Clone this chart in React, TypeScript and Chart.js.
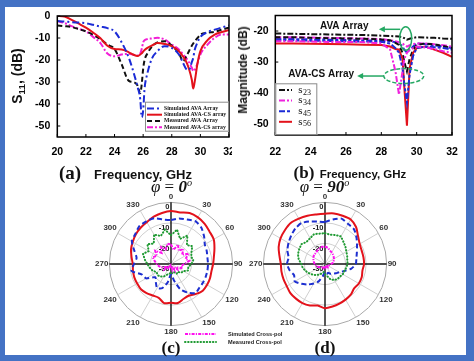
import React, { useEffect, useRef } from 'react';
import { Chart, registerables } from 'chart.js';

Chart.register(...registerables);

const SANS = '"Liberation Sans", Arial, "DejaVu Sans", sans-serif';
const SERIF = '"Liberation Serif", "Times New Roman", "DejaVu Serif", serif';
const FRAME = '#4472C4';
const GREEN = '#25a863';

// ---------------- (a) S11 ----------------
const freqA = [20, 20.5, 21, 21.5, 22, 22.5, 23, 23.5, 24, 24.5, 25, 25.3, 25.6, 25.8, 25.9, 26, 26.1, 26.3, 26.6, 27, 27.5, 28, 28.5, 28.8, 29, 29.2, 29.4, 29.5, 29.6, 29.8, 30, 30.5, 31, 31.5, 32];
const simAVA = [-2.3, -2.5, -2.8, -3, -3.3, -4, -4.8, -5.5, -7, -12, -19, -25, -32, -38, -46, -43, -33, -26, -19.5, -16, -13.7, -14.5, -17.5, -21.5, -24, -24.5, -21, -19, -15.5, -12, -9.5, -7.3, -6.2, -5.2, -4.3];
const simAVACS = [0, -0.2, -1.8, -3.5, -5.3, -7.5, -10, -13.5, -15, -15.2, -16.5, -17.5, -18.2, -17.5, -17, -16.2, -15.5, -14.5, -13.5, -12.3, -12.7, -13.7, -16, -18.5, -20.6, -24, -29, -33, -30, -21.5, -16, -11, -8.5, -7.3, -6.4];
const measAVA = [-4.3, -4.6, -5, -6, -7, -8.5, -10.5, -13, -15, -22, -29.5, -30, -31.5, -35, -31, -24, -20, -17, -14, -12, -11.5, -13.5, -17, -20.5, -18.5, -16, -13.5, -12.5, -11.5, -10, -8.5, -7.6, -7.2, -6.2, -5.3];
const measAVACS = [-2.3, -3.2, -4.6, -5.8, -7, -9.5, -12.2, -17, -18.3, -17.5, -17.2, -17.6, -18, -17, -15, -12, -11, -10.5, -10.2, -9.9, -10.7, -13, -15.2, -17.5, -19, -21, -23.5, -25, -24.5, -21.5, -17.5, -13, -9.9, -8.4, -8.4];
const xTicksA = [20, 22, 24, 26, 28, 30, 32];
const yTicksA = [0, -10, -20, -30, -40, -50];
const legendA = ['Simulated AVA Array', 'Simulated AVA-CS array', 'Measured AVA Array', 'Measured AVA-CS array'];

// ---------------- (b) coupling ----------------
const freqB = [22, 23, 24, 25, 26, 27, 28, 28.5, 28.8, 29, 29.2, 29.3, 29.45, 29.6, 29.8, 30, 30.5, 31, 31.5, 32];
const avaS23 = [-20.8, -20.9, -21, -21.1, -21.2, -21.3, -21.5, -21.6, -21.7, -21.8, -22, -22.3, -22.8, -22.5, -22.2, -22, -22.1, -22.2, -22.4, -22.5];
const avaS34 = [-22, -22, -22.1, -22.2, -22.3, -22.4, -22.6, -23, -23.3, -23.6, -24, -24.5, -25, -24.6, -24.2, -24, -24, -24.3, -24.6, -25];
const avaS45 = [-22.5, -22.6, -22.7, -22.8, -22.9, -23, -23.1, -23.3, -23.6, -24, -25, -26, -27, -26, -25, -24, -24.2, -24.6, -25, -25.5];
const csS23 = [-22, -22, -22.2, -22.3, -22.4, -22.5, -22.7, -23, -23.8, -24.5, -27, -30, -33, -29, -26, -24.5, -24, -24.3, -24.8, -25.5];
const csS34 = [-23.3, -23.3, -23.4, -23.5, -23.5, -23.6, -24, -26, -33, -40.5, -33, -29, -27, -26, -25.5, -25, -25.3, -25.8, -26.5, -27];
const csS45 = [-23, -23, -23.1, -23.2, -23.3, -23.4, -23.5, -24, -25.5, -27, -32, -37, -43, -34, -28, -25.5, -25, -25.2, -25.5, -26];
const csS56 = [-24, -24, -24.1, -24.2, -24.3, -24.4, -24.5, -25, -25.8, -26, -29, -38, -50.5, -32, -27, -25.5, -25, -26, -27, -28.3];
const xTicksB = [22, 24, 26, 28, 30, 32];
const yTicksB = [-20, -30, -40, -50];
const legendB = [['s', '23'], ['s', '34'], ['s', '45'], ['s', '56']];
const noteTexts = [
  { text: 'AVA Array', x: 25.9, y: -18.4 },
  { text: 'AVA-CS Array', x: 24.6, y: -33.9 },
];
const noteArrows = [
  { from: 29.07, to: 27.86, y: -19.45 },
  { from: 28.14, to: 26.63, y: -34.5 },
];
const noteEllipses = [
  { x: 29.38, y: -22.4, rx: 0.34, ry: 3.8, dashed: false },
  { x: 29.27, y: -34.5, rx: 1.13, ry: 2.4, dashed: true },
];

// ---------------- (c), (d) polar patterns ----------------
const angleLabels = ['0', '10', '20', '30', '40', '50', '60', '70', '80', '90', '100', '110', '120', '130', '140', '150', '160', '170', '180', '190', '200', '210', '220', '230', '240', '250', '260', '270', '280', '290', '300', '310', '320', '330', '340', '350'];
const radialTicks = [0, -10, -20, -30];

const redC = [-4.2, -4.5, -3.6, -3.8, -4.5, -5.5, -6, -7.5, -8.8, -9.5, -10, -9.8, -9.7, -9.8, -11, -12.3, -12, -10.7, -11.1, -10.7, -12.5, -12.3, -11.5, -10.9, -11, -11, -11.2, -11.4, -10.5, -9.3, -8.5, -7.6, -7, -6.5, -5.5, -4.8];
const blueC = [-8.6, -7.5, -7, -6, -7, -9, -11, -11.5, -12, -12, -12, -12, -12, -12, -11.5, -14, -17, -22, -25, -21, -17.5, -16.5, -18.5, -20, -16, -15, -10.5, -12, -13, -11, -8, -7.3, -6, -6, -6.3, -8];
const greenC = [-16, -13, -17, -14, -18, -16.5, -18.5, -19.5, -19, -20, -21.5, -21, -23, -23.5, -25, -24.5, -26, -25.5, -26, -25, -24.5, -23, -22, -21.5, -22, -20.5, -19.5, -18.5, -17, -15.5, -17.5, -15, -17, -13.5, -15.5, -13];
const magentaC = [-20.5, -23, -20, -22.5, -20.5, -23, -20, -22.5, -21, -23.5, -25, -24, -27, -26, -28, -27, -29, -28, -29, -28, -29, -27, -28, -26, -27, -25, -24, -23, -22, -20.5, -22, -20, -23, -20.5, -22.5, -20];

const redD = [-5.5, -5, -5, -5, -6.5, -9, -10.5, -11, -11, -11, -11.5, -11, -11, -11.5, -10.5, -10, -9.5, -9, -8.5, -9.5, -8.5, -8, -8, -8, -8.5, -8.5, -8.5, -8.5, -7.5, -6, -5, -4.5, -4, -4.5, -5, -5.5];
const blueD = [-9.5, -8, -6.5, -7.5, -8, -10, -12, -13.5, -14.5, -15, -17, -20, -22, -23, -24, -24.5, -25.5, -25, -26, -24, -21, -19, -17, -15, -13, -14, -12.5, -11.5, -12, -10.5, -9.5, -8.5, -7.5, -7, -8, -9];
const greenD = [-15, -15.5, -15, -14.5, -16, -17, -18, -18.5, -19, -19, -19.5, -20, -20, -20.5, -20.5, -21, -22, -24, -25, -26, -25, -24, -23, -22, -21, -20, -19, -18.5, -17, -16, -15.5, -15, -16, -15.5, -14.5, -15];
const magentaD = [-21.5, -22, -23, -23.5, -24, -24.5, -25, -25.5, -26, -27, -27.5, -28, -28, -28.5, -28, -28.5, -29, -28.5, -29, -28.5, -28, -28.5, -28, -27.5, -27, -26, -25.5, -25, -24.5, -24, -23.5, -23, -23, -22.5, -22, -21.5];

const crossPolLegend = ['Simulated Cross-pol', 'Measured Cross-pol'];

// ---------------- helpers ----------------
const pts = (xs: number[], ys: number[]) => xs.map((x, i) => ({ x, y: ys[i] }));

function framePlugin(xTicks: number[], yTicks: number[]) {
  return {
    id: 'frame',
    afterDatasetsDraw(chart: any) {
      const { ctx, chartArea: a, scales } = chart;
      ctx.save();
      ctx.setLineDash([]);
      ctx.strokeStyle = '#000';
      ctx.lineWidth = 1.5;
      ctx.strokeRect(a.left, a.top, a.right - a.left, a.bottom - a.top);
      ctx.lineWidth = 1;
      ctx.beginPath();
      xTicks.forEach((v) => {
        const px = scales.x.getPixelForValue(v);
        ctx.moveTo(px, a.bottom);
        ctx.lineTo(px, a.bottom - 3);
      });
      yTicks.forEach((v) => {
        const py = scales.y.getPixelForValue(v);
        ctx.moveTo(a.left, py);
        ctx.lineTo(a.left + 3, py);
      });
      ctx.stroke();
      ctx.restore();
    },
  };
}

type LegendCfg = {
  items: { ds: number; text: string; sub?: string }[];
  anchor: 'left' | 'right';
  dx: number; dy: number; w: number; h: number;
  padTop: number; rowH: number; line0: number; line1: number; textX: number;
  font: string; subFont: string; subDy: number; border: string;
};

function boxLegendPlugin(cfg: LegendCfg) {
  return {
    id: 'boxLegend',
    afterDatasetsDraw(chart: any) {
      const { ctx, chartArea: ca } = chart;
      const x0 = cfg.anchor === 'right' ? ca.right - cfg.w - cfg.dx : ca.left + cfg.dx;
      const y0 = ca.bottom - cfg.h - cfg.dy;
      ctx.save();
      ctx.setLineDash([]);
      ctx.fillStyle = '#fff';
      ctx.fillRect(x0, y0, cfg.w, cfg.h);
      ctx.strokeStyle = cfg.border;
      ctx.lineWidth = 1;
      ctx.strokeRect(x0 + 0.5, y0 + 0.5, cfg.w - 1, cfg.h - 1);
      cfg.items.forEach((it, i) => {
        const ds = chart.data.datasets[it.ds];
        const y = y0 + cfg.padTop + i * cfg.rowH;
        ctx.strokeStyle = ds.borderColor;
        ctx.lineWidth = ds.borderWidth;
        ctx.setLineDash(ds.borderDash || []);
        ctx.beginPath();
        ctx.moveTo(x0 + cfg.line0, y);
        ctx.lineTo(x0 + cfg.line1, y);
        ctx.stroke();
        ctx.setLineDash([]);
        ctx.fillStyle = '#111';
        ctx.font = cfg.font;
        ctx.textAlign = 'left';
        ctx.textBaseline = 'middle';
        ctx.fillText(it.text, x0 + cfg.textX, y);
        if (it.sub) {
          const w = ctx.measureText(it.text).width;
          ctx.font = cfg.subFont;
          ctx.fillText(it.sub, x0 + cfg.textX + w + 0.5, y + cfg.subDy);
        }
      });
      ctx.restore();
    },
  };
}

const notesPlugin = {
  id: 'notes',
  afterDatasetsDraw(chart: any) {
    const { ctx, scales: { x, y } } = chart;
    ctx.save();
    ctx.strokeStyle = GREEN;
    ctx.fillStyle = GREEN;
    ctx.lineWidth = 1.5;
    noteEllipses.forEach((e) => {
      const cx = x.getPixelForValue(e.x);
      const cy = y.getPixelForValue(e.y);
      const rx = Math.abs(x.getPixelForValue(e.x + e.rx) - cx);
      const ry = Math.abs(y.getPixelForValue(e.y + e.ry) - cy);
      ctx.setLineDash(e.dashed ? [4, 2] : []);
      ctx.beginPath();
      ctx.ellipse(cx, cy, rx, ry, 0, 0, Math.PI * 2);
      ctx.stroke();
    });
    ctx.setLineDash([]);
    noteArrows.forEach((a) => {
      const x1 = x.getPixelForValue(a.from);
      const x2 = x.getPixelForValue(a.to);
      const py = y.getPixelForValue(a.y);
      ctx.beginPath();
      ctx.moveTo(x1, py);
      ctx.lineTo(x2 + 4, py);
      ctx.stroke();
      ctx.beginPath();
      ctx.moveTo(x2, py);
      ctx.lineTo(x2 + 6, py - 3);
      ctx.lineTo(x2 + 6, py + 3);
      ctx.closePath();
      ctx.fill();
    });
    ctx.fillStyle = '#111';
    ctx.font = `bold 10px ${SANS}`;
    ctx.textAlign = 'center';
    ctx.textBaseline = 'middle';
    noteTexts.forEach((t) => ctx.fillText(t.text, x.getPixelForValue(t.x), y.getPixelForValue(t.y)));
    ctx.restore();
  },
};

const polarTickPlugin = {
  id: 'polarTicks',
  beforeDatasetsDraw(chart: any) {
    const s = chart.scales.r;
    const ctx = chart.ctx;
    ctx.save();
    ctx.font = `bold 7.5px ${SANS}`;
    ctx.fillStyle = '#222';
    ctx.textAlign = 'right';
    ctx.textBaseline = 'middle';
    radialTicks.forEach((v) => {
      const d = s.getDistanceFromCenterForValue(v);
      ctx.fillText(String(v), s.xCenter - 1.5, s.yCenter - d + 5);
    });
    ctx.restore();
  },
};

function lineOptions(o: any) {
  const tickFont = { family: SANS, weight: 'bold', size: 10.5 };
  return {
    animation: false,
    responsive: false,
    maintainAspectRatio: false,
    layout: { padding: o.pad },
    plugins: { legend: { display: false }, tooltip: { enabled: false } },
    elements: { point: { radius: 0 } },
    scales: {
      x: {
        type: 'linear',
        min: o.xMin,
        max: o.xMax,
        grid: { display: false, drawTicks: false },
        border: { display: false },
        afterBuildTicks: (s: any) => { s.ticks = o.xTicks.map((v: number) => ({ value: v })); },
        afterFit: (s: any) => { s.height = o.xHeight; s.paddingLeft = 0; s.paddingRight = 0; },
        ticks: { font: tickFont, color: '#000', padding: o.xPad, maxRotation: 0, autoSkip: false },
      },
      y: {
        type: 'linear',
        min: o.yMin,
        max: o.yMax,
        grid: { display: false, drawTicks: false },
        border: { display: false },
        afterBuildTicks: (s: any) => { s.ticks = o.yTicks.map((v: number) => ({ value: v })); },
        afterFit: (s: any) => { s.width = o.yWidth; s.paddingTop = 0; s.paddingBottom = 0; },
        ticks: { font: tickFont, color: '#000', padding: o.yPad, autoSkip: false },
      },
    },
  };
}

function makeA(canvas: HTMLCanvasElement) {
  const series = [
    { label: legendA[0], values: simAVA, color: '#1b2bd6', dash: [7, 3, 2, 3] },
    { label: legendA[1], values: simAVACS, color: '#e3121b', dash: [] },
    { label: legendA[2], values: measAVA, color: '#111111', dash: [5, 3] },
    { label: legendA[3], values: measAVACS, color: '#f21fd6', dash: [6, 2, 2, 2] },
  ];
  return new Chart(canvas, {
    type: 'line',
    data: {
      datasets: series.map((s) => ({
        label: s.label,
        data: pts(freqA, s.values),
        borderColor: s.color,
        borderDash: s.dash,
        borderWidth: 2,
        pointRadius: 0,
        fill: false,
        cubicInterpolationMode: 'monotone',
      })),
    },
    options: lineOptions({
      xMin: 20, xMax: 32, yMin: -55, yMax: 0, xTicks: xTicksA, yTicks: yTicksA,
      yWidth: 52.3, xHeight: 30, xPad: 8.4, yPad: 7, pad: { top: 8, right: 3, left: 0, bottom: 0 },
    }) as any,
    plugins: [
      framePlugin(xTicksA, yTicksA),
      boxLegendPlugin({
        items: legendA.map((t, i) => ({ ds: i, text: t })),
        anchor: 'right', dx: 0, dy: 5.3, w: 84, h: 30,
        padTop: 6.7, rowH: 6.3, line0: 2, line1: 17, textX: 19,
        font: `bold 5.8px ${SERIF}`, subFont: `bold 5px ${SERIF}`, subDy: 2, border: '#8a8a8a',
      }),
    ],
  } as any);
}

function makeB(canvas: HTMLCanvasElement) {
  const series = [
    { label: 's23', values: avaS23, color: '#111111', dash: [6, 2, 2, 2] },
    { label: 's34', values: csS34, color: '#ee22dd', dash: [6, 2, 2, 2] },
    { label: 's45', values: csS45, color: '#1b2bd6', dash: [6, 2, 3, 2] },
    { label: 's56', values: csS56, color: '#e3121b', dash: [] },
    { label: 's23 AVA-CS', values: csS23, color: '#111111', dash: [5, 3] },
    { label: 's34 AVA', values: avaS34, color: '#ee22dd', dash: [6, 2, 2, 2] },
    { label: 's45 AVA', values: avaS45, color: '#1b2bd6', dash: [6, 2, 3, 2] },
  ];
  return new Chart(canvas, {
    type: 'line',
    data: {
      datasets: series.map((s) => ({
        label: s.label,
        data: pts(freqB, s.values),
        borderColor: s.color,
        borderDash: s.dash,
        borderWidth: 2,
        pointRadius: 0,
        fill: false,
        tension: 0,
      })),
    },
    options: lineOptions({
      xMin: 22, xMax: 32, yMin: -53.5, yMax: -15, xTicks: xTicksB, yTicks: yTicksB,
      yWidth: 43.3, xHeight: 32, xPad: 10.4, yPad: 6.6, pad: { top: 7.5, right: 14, left: 0, bottom: 0 },
    }) as any,
    plugins: [
      framePlugin(xTicksB, yTicksB),
      notesPlugin,
      boxLegendPlugin({
        items: legendB.map((t, i) => ({ ds: i, text: t[0], sub: t[1] })),
        anchor: 'left', dx: 0, dy: 0, w: 42, h: 51.7,
        padTop: 6.7, rowH: 10.6, line0: 3.7, line1: 16.7, textX: 23,
        font: `11px ${SERIF}`, subFont: `8px ${SERIF}`, subDy: 2.5, border: '#8a8a8a',
      }),
    ],
  } as any);
}

function makePolar(canvas: HTMLCanvasElement, red: number[], blue: number[], green: number[], magenta: number[]) {
  const series = [
    { label: crossPolLegend[0], values: magenta, color: '#ff10f0', dash: [3, 1.2, 1.2, 1.2], width: 2, cap: 'butt', tension: 0 },
    { label: crossPolLegend[1], values: green, color: '#1f9a32', dash: [0.5, 2.6], width: 2, cap: 'round', tension: 0 },
    { label: 'Co-pol (blue)', values: blue, color: '#1d2fd0', dash: [5, 3], width: 2, cap: 'butt', tension: 0.2 },
    { label: 'Co-pol (red)', values: red, color: '#e3121b', dash: [], width: 2, cap: 'butt', tension: 0.3 },
  ];
  return new Chart(canvas, {
    type: 'radar',
    data: {
      labels: angleLabels,
      datasets: series.map((s) => ({
        label: s.label,
        data: s.values,
        borderColor: s.color,
        borderDash: s.dash,
        borderWidth: s.width,
        borderCapStyle: s.cap,
        backgroundColor: 'rgba(0,0,0,0)',
        fill: false,
        pointRadius: 0,
        tension: s.tension,
      })),
    },
    options: {
      animation: false,
      responsive: false,
      plugins: { legend: { display: false }, tooltip: { enabled: false } },
      scales: {
        r: {
          min: -30,
          max: 0,
          startAngle: 0,
          ticks: { display: false, stepSize: 10 },
          grid: {
            circular: true,
            color: (c: any) => (c.tick && c.tick.value === 0 ? '#a9a9a9' : '#cfcfcf'),
            lineWidth: 1,
          },
          angleLines: {
            color: (c: any) => (c.index % 9 === 0 ? '#111' : '#cfcfcf'),
            lineWidth: (c: any) => (c.index % 9 === 0 ? 1.4 : c.index % 3 === 0 ? 1 : 0),
          },
          pointLabels: {
            padding: 1,
            font: { family: SANS, weight: 'bold', size: 8 },
            color: '#333',
            callback: (l: string, i: number) => (i % 3 === 0 ? l : ''),
          },
        },
      },
    },
    plugins: [polarTickPlugin],
  } as any);
}

const abs = (left: number, top: number, extra: React.CSSProperties = {}): React.CSSProperties => ({
  position: 'absolute', left, top, transform: 'translate(-50%, -50%)', whiteSpace: 'nowrap', lineHeight: 1, color: '#111', ...extra,
});

export default function App() {
  const aRef = useRef<HTMLCanvasElement>(null);
  const bRef = useRef<HTMLCanvasElement>(null);
  const cRef = useRef<HTMLCanvasElement>(null);
  const dRef = useRef<HTMLCanvasElement>(null);

  useEffect(() => {
    const charts = [
      makeA(aRef.current!),
      makeB(bRef.current!),
      makePolar(cRef.current!, redC, blueC, greenC, magentaC),
      makePolar(dRef.current!, redD, blueD, greenD, magentaD),
    ];
    return () => charts.forEach((c) => c.destroy());
  }, []);

  return (
    <div style={{ position: 'fixed', left: 0, top: 0, width: 474, height: 361, background: FRAME, overflow: 'hidden' }}>
      <div style={{ position: 'absolute', left: 5, top: 7, width: 461, height: 348, background: '#fff' }} />
      <canvas ref={aRef} width={227} height={159} style={{ position: 'absolute', left: 5, top: 8 }} />
      <canvas ref={bRef} width={234} height={159} style={{ position: 'absolute', left: 232, top: 8, background: '#fff' }} />
      <canvas ref={cRef} width={153} height={153} style={{ position: 'absolute', left: 93, top: 188 }} />
      <canvas ref={dRef} width={153} height={153} style={{ position: 'absolute', left: 247, top: 188 }} />

      <div style={abs(18, 76, { transform: 'translate(-50%, -50%) rotate(-90deg)', font: `bold 14px ${SANS}` })}>
        S<sub style={{ fontSize: '0.7em', verticalAlign: '-0.25em' }}>11</sub>, (dB)
      </div>
      <div style={abs(243, 70, { transform: 'translate(-50%, -50%) rotate(-90deg)', font: `bold 12px ${SANS}` })}>
        Magnitude (dB)
      </div>
      <div style={abs(70, 173, { font: `bold 19px ${SERIF}` })}>(a)</div>
      <div style={abs(143, 174, { font: `bold 13px ${SANS}` })}>Frequency, GHz</div>
      <div style={abs(304, 173, { font: `bold 17px ${SERIF}` })}>(b)</div>
      <div style={abs(363, 174, { font: `bold 11.5px ${SANS}` })}>Frequency, GHz</div>

      <div style={abs(171.5, 187, { font: `17px ${SERIF}` })}>
        <i>φ</i> = <b><i>0</i></b><sup style={{ fontSize: '0.6em' }}><i>o</i></sup>
      </div>
      <div style={abs(324.5, 187, { font: `17px ${SERIF}` })}>
        <i>φ</i> = <b><i>90</i></b><sup style={{ fontSize: '0.6em' }}><i>o</i></sup>
      </div>

      <svg style={{ position: 'absolute', left: 183, top: 329 }} width={36} height={16}>
        <line x1={2} y1={5} x2={33} y2={5} stroke="#ff10f0" strokeWidth={2} strokeDasharray="3 1.2 1.2 1.2" />
        <line x1={2} y1={13} x2={33} y2={13} stroke="#1f9a32" strokeWidth={2} strokeDasharray="0.5 2.6" strokeLinecap="round" />
      </svg>
      <div style={{ position: 'absolute', left: 228, top: 330, font: `bold 5.6px ${SANS}`, lineHeight: '8px', color: '#222', whiteSpace: 'nowrap' }}>
        {crossPolLegend[0]}<br />{crossPolLegend[1]}
      </div>

      <div style={abs(171, 348, { font: `bold 17px ${SERIF}` })}>(c)</div>
      <div style={abs(325, 348, { font: `bold 17px ${SERIF}` })}>(d)</div>
    </div>
  );
}
